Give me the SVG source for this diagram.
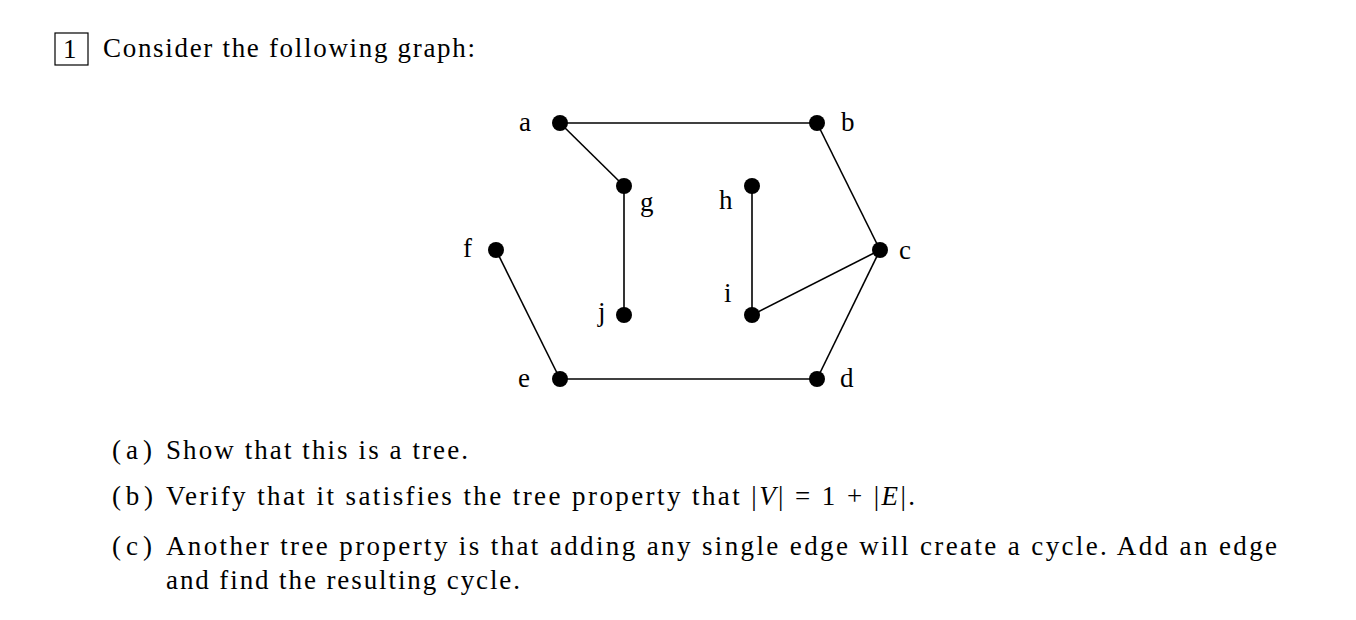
<svg xmlns="http://www.w3.org/2000/svg" width="1356" height="620" viewBox="0 0 1356 620">
<style>
text{font-family:"Liberation Serif","DejaVu Serif",serif;font-size:27px;fill:#000}
.n{fill:#000}
.e{stroke:#000;stroke-width:1.6;fill:none}
</style>
<rect width="1356" height="620" fill="#fff"/>
<g id="title">
<rect x="55" y="33" width="33" height="32" fill="none" stroke="#000" stroke-width="1.2"/>
<text x="63" y="58">1</text>
<text x="103" y="57" textLength="372">Consider the following graph:</text>
</g>
<g id="edges">
<line class="e" x1="560" y1="123" x2="817" y2="123"/>
<line class="e" x1="560" y1="123" x2="624" y2="186"/>
<line class="e" x1="624" y1="186" x2="624" y2="315"/>
<line class="e" x1="752" y1="186" x2="752" y2="315"/>
<line class="e" x1="752" y1="315" x2="880" y2="250"/>
<line class="e" x1="817" y1="123" x2="880" y2="250"/>
<line class="e" x1="880" y1="250" x2="817" y2="379"/>
<line class="e" x1="817" y1="379" x2="560" y2="379"/>
<line class="e" x1="560" y1="379" x2="496" y2="250"/>
</g>
<g id="a"><circle class="n" cx="560" cy="123" r="8"/><text x="519" y="131">a</text></g>
<g id="b"><circle class="n" cx="817" cy="123" r="8"/><text x="841" y="131">b</text></g>
<g id="g"><circle class="n" cx="624" cy="186" r="8"/><text x="640" y="211">g</text></g>
<g id="h"><circle class="n" cx="752" cy="186" r="8"/><text x="719" y="209">h</text></g>
<g id="f"><circle class="n" cx="496" cy="250" r="8"/><text x="463" y="257">f</text></g>
<g id="c"><circle class="n" cx="880" cy="250" r="8"/><text x="899" y="259">c</text></g>
<g id="i"><circle class="n" cx="752" cy="315" r="8"/><text x="724" y="302">i</text></g>
<g id="j"><circle class="n" cx="624" cy="315" r="8"/><text x="598" y="321">j</text></g>
<g id="e"><circle class="n" cx="560" cy="379" r="8"/><text x="518" y="387">e</text></g>
<g id="d"><circle class="n" cx="817" cy="379" r="8"/><text x="840" y="387">d</text></g>
<g id="questions">
<text x="112" y="459" textLength="40">(a)</text>
<text x="166" y="459" textLength="302">Show that this is a tree.</text>
<text x="112" y="505" textLength="41">(b)</text>
<text x="166" y="505" textLength="749">Verify that it satisfies the tree property that |<tspan font-style="italic">V</tspan>| = 1 + |<tspan font-style="italic">E</tspan>|.</text>
<text x="112" y="555" textLength="40">(c)</text>
<text x="166" y="555" textLength="1111">Another tree property is that adding any single edge will create a cycle.  Add an edge</text>
<text x="166" y="589" textLength="354">and find the resulting cycle.</text>
</g>
</svg>
